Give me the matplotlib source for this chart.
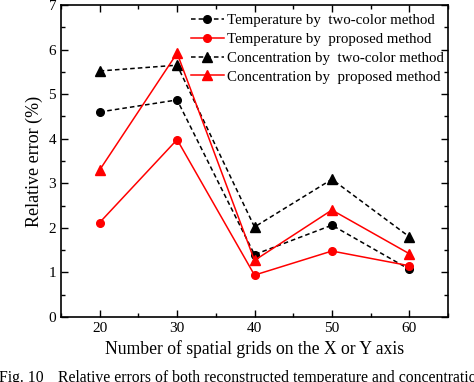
import matplotlib
matplotlib.use("Agg")
import matplotlib.pyplot as plt
from matplotlib.ticker import MultipleLocator

grids = [20, 30, 40, 50, 60]
temp_two_color = [4.60, 4.87, 1.40, 2.06, 1.07]
temp_proposed = [2.12, 3.98, 0.94, 1.48, 1.15]
conc_two_color = [5.52, 5.65, 2.02, 3.09, 1.80]
conc_proposed = [3.30, 5.92, 1.27, 2.40, 1.42]

labels = ["Temperature by  two-color method",
          "Temperature by  proposed method",
          "Concentration by  two-color method",
          "Concentration by  proposed method"]

plt.rcParams['font.family'] = ['Liberation Serif', 'DejaVu Serif']
plt.rcParams['mathtext.fontset'] = 'stix'

fig = plt.figure(figsize=(4.74, 3.82), dpi=100)
ax = fig.add_axes([61/474, 1-317/382, (448-61)/474, (317-5)/382])

ax.plot(grids, temp_two_color, color='black', ls=(0, (3, 2)), lw=1.1, marker='o', ms=5.5, label=labels[0])
ax.plot(grids, temp_proposed, color='red', ls='-', lw=1.1, marker='o', ms=5.5, label=labels[1])
ax.plot(grids, conc_two_color, color='black', ls=(0, (3, 2)), lw=1.1, marker='^', ms=6.5, label=labels[2])
ax.plot(grids, conc_proposed, color='red', ls='-', lw=1.1, marker='^', ms=6.5, label=labels[3])

ax.set_xlim(15, 65)
ax.set_ylim(0, 7)
ax.xaxis.set_major_locator(MultipleLocator(10))
ax.xaxis.set_minor_locator(MultipleLocator(5))
ax.yaxis.set_major_locator(MultipleLocator(1))
ax.yaxis.set_minor_locator(MultipleLocator(0.5))
ax.tick_params(which='both', direction='in', top=True, right=True, labelsize=11, width=1)
ax.tick_params(which='major', length=5)
ax.tick_params(which='minor', length=3)
for s in ax.spines.values():
    s.set_linewidth(1.2)

ax.set_xlabel("Number of spatial grids on the X or Y axis", fontsize=12.7, labelpad=4)
ax.set_ylabel("Relative error (%)", fontsize=13, labelpad=4)

leg = ax.legend(loc='upper right', frameon=False, fontsize=10.7, handlelength=2.2,
                handletextpad=0.25, labelspacing=0.36, borderaxespad=0.1, borderpad=0.5,
                bbox_to_anchor=(1.013, 1.0))

fig.text(-0.003, 1-378/382, "Fig. 10", fontsize=11.3, va='center', ha='left')
fig.text(58/474, 1-378/382, "Relative errors of both reconstructed temperature and concentration",
         fontsize=11.3, va='center', ha='left')

fig.savefig("out.png", dpi=100)
